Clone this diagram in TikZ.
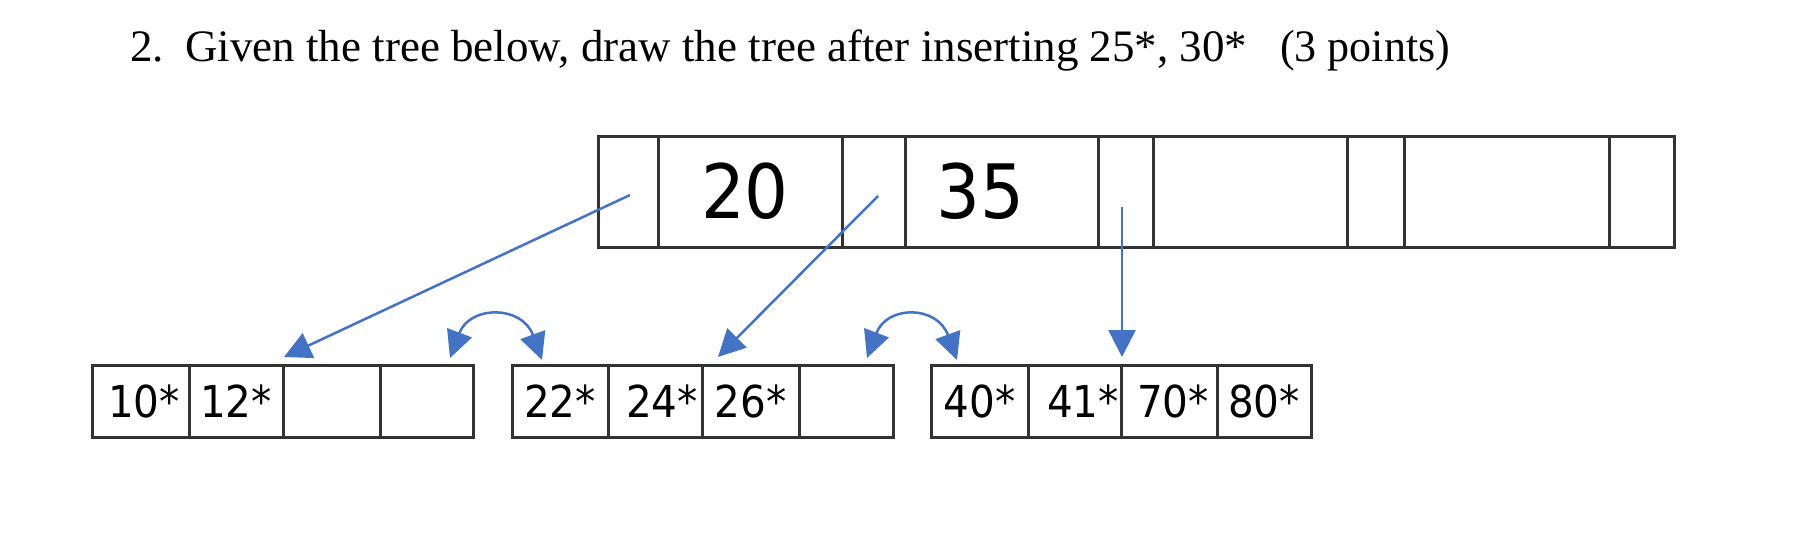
\documentclass[tikz,border=0pt]{standalone}
\usepackage{fontspec}
\usepackage{graphicx}
\setmainfont{Liberation Serif}
\newfontfamily\cellfont[FakeStretch=0.92]{DejaVu Sans}
\usetikzlibrary{arrows.meta}
\definecolor{arrowblue}{HTML}{4472C4}
\definecolor{boxgray}{HTML}{333333}
\begin{document}
\begin{tikzpicture}[x=1pt,y=-1pt,
  cell/.style={draw=boxgray,line width=3pt,fill=white,anchor=north west,inner sep=0pt,outer sep=0pt},
  rootcell/.style={cell,minimum height=111pt,font=\cellfont\fontsize{75}{75}\selectfont},
  leafcell/.style={cell,minimum height=72pt,font=\cellfont\fontsize{44}{44}\selectfont},
  ptr/.style={arrowblue,line width=2.5pt,-{Triangle[length=27pt,width=27pt]}},
  sib/.style={arrowblue,line width=2.5pt,{Triangle[length=27pt,width=26pt]}-{Triangle[length=27pt,width=26pt]}},
  title/.style={anchor=base west,inner sep=0pt,font=\fontsize{45}{54}\selectfont}]
\useasboundingbox[fill=white] (0,0) rectangle (1796,546);

% title
\node[title] (num) at (130,61) {2.};
\node[title] (q) at (185,61) {\resizebox{1062pt}{\height}{Given the tree below, draw the tree after inserting 25*, 30*}};
\node[title] (pts) at (1280,61) {\resizebox{170pt}{\height}{(3 points)}};

% root node
\node[rootcell,minimum width=60pt]  (r1) at (598,136) {};
\node[rootcell,minimum width=184pt] (r2) at (r1.north east) {20\hspace*{10pt}};
\node[rootcell,minimum width=63pt]  (r3) at (r2.north east) {};
\node[rootcell,minimum width=193pt] (r4) at (r3.north east) {35\hspace*{42pt}};
\node[rootcell,minimum width=55pt]  (r5) at (r4.north east) {};
\node[rootcell,minimum width=194pt] (r6) at (r5.north east) {};
\node[rootcell,minimum width=57pt]  (r7) at (r6.north east) {};
\node[rootcell,minimum width=205pt] (r8) at (r7.north east) {};
\node[rootcell,minimum width=65pt]  (r9) at (r8.north east) {};

% leaf 1
\node[leafcell,minimum width=97pt] (a1) at (92,365) {\hspace*{7pt}10*};
\node[leafcell,minimum width=94pt] (a2) at (a1.north east) {12*};
\node[leafcell,minimum width=97pt] (a3) at (a2.north east) {};
\node[leafcell,minimum width=93pt] (a4) at (a3.north east) {};

% leaf 2
\node[leafcell,minimum width=96pt] (b1) at (512,365) {22*};
\node[leafcell,minimum width=94pt] (b2) at (b1.north east) {\hspace*{14pt}24*};
\node[leafcell,minimum width=97pt] (b3) at (b2.north east) {26*};
\node[leafcell,minimum width=94pt] (b4) at (b3.north east) {};

% leaf 3
\node[leafcell,minimum width=97pt] (c1) at (931,365) {40*};
\node[leafcell,minimum width=93pt] (c2) at (c1.north east) {\hspace*{17pt}41*};
\node[leafcell,minimum width=96pt] (c3) at (c2.north east) {\hspace*{8pt}70*};
\node[leafcell,minimum width=94pt] (c4) at (c3.north east) {80*};

% pointer ends
\coordinate (p1s) at (630,195);
\coordinate (p1t) at (284,357);
\coordinate (p2s) at (878,196);
\coordinate (p2t) at (718,357);
\coordinate (p3s) at (1122,207);
\coordinate (p3t) at (1122,357);
\coordinate (s1a) at (450,358);
\coordinate (s1b) at (542,360);
\coordinate (s2a) at (867,358);
\coordinate (s2b) at (957,360);

\draw[ptr] (p1s) -- (p1t);
\draw[ptr] (p2s) -- (p2t);
\draw[ptr] (p3s) -- (p3t);
\draw[sib] (s1a) .. controls (470,305) and (522,305) .. (s1b);
\draw[sib] (s2a) .. controls (887,305) and (937,305) .. (s2b);
\end{tikzpicture}
\end{document}
